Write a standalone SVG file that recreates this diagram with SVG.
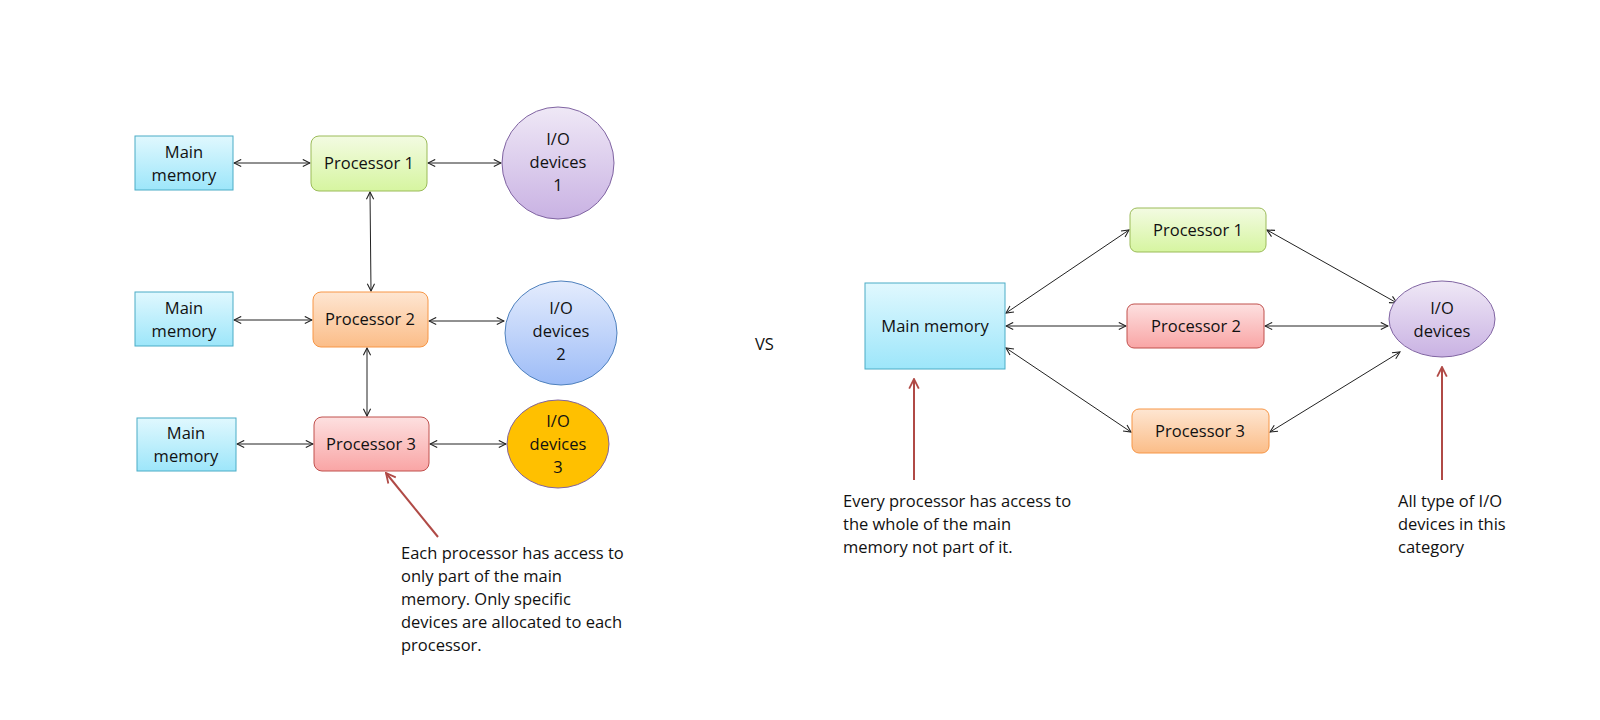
<svg xmlns="http://www.w3.org/2000/svg" width="1600" height="720" viewBox="0 0 1600 720">
<style>
text{font-family:"Open Sans","Liberation Sans",sans-serif;font-size:16.5px;fill:#111}
.c{text-anchor:middle}
.l{stroke:#222;stroke-width:1;fill:none;marker-start:url(#a);marker-end:url(#a)}
.r{stroke:#b04a46;stroke-width:2;fill:none;marker-end:url(#ra)}
</style>
<defs>
<marker id="a" viewBox="0 0 10 10" refX="9" refY="5" markerWidth="9" markerHeight="9" markerUnits="userSpaceOnUse" orient="auto-start-reverse"><path d="M1,1 L9,5 L1,9" fill="none" stroke="#222" stroke-width="1.2"/></marker>
<marker id="ra" viewBox="0 0 10 10" refX="9" refY="5" markerWidth="12" markerHeight="12" markerUnits="userSpaceOnUse" orient="auto"><path d="M1,1 L9,5 L1,9" fill="none" stroke="#b04a46" stroke-width="1.5"/></marker>
<linearGradient id="gb" x1="0" y1="0" x2="0" y2="1"><stop offset="0" stop-color="#e0f8fe"/><stop offset="1" stop-color="#9de6fa"/></linearGradient>
<linearGradient id="gg" x1="0" y1="0" x2="0" y2="1"><stop offset="0" stop-color="#f3fbe2"/><stop offset="1" stop-color="#d6f5a0"/></linearGradient>
<linearGradient id="go" x1="0" y1="0" x2="0" y2="1"><stop offset="0" stop-color="#fee6d2"/><stop offset="1" stop-color="#fbbd88"/></linearGradient>
<linearGradient id="gr" x1="0" y1="0" x2="0" y2="1"><stop offset="0" stop-color="#fde0e0"/><stop offset="1" stop-color="#f9a5a5"/></linearGradient>
<linearGradient id="gp" x1="0" y1="0" x2="0" y2="1"><stop offset="0" stop-color="#efe8f6"/><stop offset="1" stop-color="#c9b2e3"/></linearGradient>
<linearGradient id="gbl" x1="0" y1="0" x2="0" y2="1"><stop offset="0" stop-color="#e4ecfd"/><stop offset="1" stop-color="#9dbcf7"/></linearGradient>
</defs>
<rect width="1600" height="720" fill="#fff"/>
<g id="connectors">
<line class="l" x1="234" y1="163" x2="310" y2="163"/>
<line class="l" x1="428" y1="163" x2="501" y2="163"/>
<line class="l" x1="370" y1="192" x2="371" y2="291"/>
<line class="l" x1="234" y1="320" x2="312" y2="320"/>
<line class="l" x1="429" y1="321" x2="504" y2="321"/>
<line class="l" x1="367" y1="348" x2="367" y2="416"/>
<line class="l" x1="237" y1="444" x2="313" y2="444"/>
<line class="l" x1="430" y1="444" x2="506" y2="444"/>
<line class="r" x1="438" y1="537" x2="386" y2="473"/>
<line class="l" x1="1006" y1="313" x2="1129" y2="230"/>
<line class="l" x1="1006" y1="326" x2="1126" y2="326"/>
<line class="l" x1="1006" y1="348" x2="1131" y2="432"/>
<line class="l" x1="1267" y1="230" x2="1397" y2="303"/>
<line class="l" x1="1265" y1="326" x2="1388" y2="326"/>
<line class="l" x1="1270" y1="432" x2="1400" y2="352"/>
<line class="r" x1="914" y1="480" x2="914" y2="379"/>
<line class="r" x1="1442" y1="480" x2="1442" y2="367"/>
</g>
<g id="mm1"><rect x="135" y="136" width="98" height="54" fill="url(#gb)" stroke="#4bacc6"/><text class="c" x="184" y="158">Main</text><text class="c" x="184" y="181">memory</text></g>
<g id="mm2"><rect x="135" y="292" width="98" height="54" fill="url(#gb)" stroke="#4bacc6"/><text class="c" x="184" y="314">Main</text><text class="c" x="184" y="337">memory</text></g>
<g id="mm3"><rect x="137" y="418" width="99" height="53" fill="url(#gb)" stroke="#4bacc6"/><text class="c" x="186" y="439">Main</text><text class="c" x="186" y="462">memory</text></g>
<g id="p1"><rect x="311" y="136" width="116" height="55" rx="8" fill="url(#gg)" stroke="#9bbb59"/><text class="c" x="369" y="169">Processor 1</text></g>
<g id="p2"><rect x="313" y="292" width="115" height="55" rx="8" fill="url(#go)" stroke="#f79646"/><text class="c" x="370" y="325">Processor 2</text></g>
<g id="p3"><rect x="314" y="417" width="115" height="54" rx="8" fill="url(#gr)" stroke="#c0504d"/><text class="c" x="371" y="450">Processor 3</text></g>
<g id="io1"><circle cx="558" cy="163" r="56" fill="url(#gp)" stroke="#8064a2"/><text class="c" x="558" y="145">I/O</text><text class="c" x="558" y="168">devices</text><text class="c" x="558" y="191">1</text></g>
<g id="io2"><ellipse cx="561" cy="333" rx="56" ry="52" fill="url(#gbl)" stroke="#4f81bd"/><text class="c" x="561" y="314">I/O</text><text class="c" x="561" y="337">devices</text><text class="c" x="561" y="360">2</text></g>
<g id="io3"><ellipse cx="558" cy="444" rx="51" ry="44" fill="#ffc000" stroke="#8064a2"/><text class="c" x="558" y="427">I/O</text><text class="c" x="558" y="450">devices</text><text class="c" x="558" y="473">3</text></g>
<g id="note1"><text x="401" y="559">Each processor has access to</text><text x="401" y="582">only part of the main</text><text x="401" y="605">memory. Only specific</text><text x="401" y="628">devices are allocated to each</text><text x="401" y="651">processor.</text></g>
<text x="755" y="350" font-size="17">VS</text>
<g id="mm"><rect x="865" y="283" width="140" height="86" fill="url(#gb)" stroke="#4bacc6"/><text class="c" x="935" y="332">Main memory</text></g>
<g id="rp1"><rect x="1130" y="208" width="136" height="44" rx="7" fill="url(#gg)" stroke="#9bbb59"/><text class="c" x="1198" y="236">Processor 1</text></g>
<g id="rp2"><rect x="1127" y="304" width="137" height="44" rx="7" fill="url(#gr)" stroke="#c0504d"/><text class="c" x="1196" y="332">Processor 2</text></g>
<g id="rp3"><rect x="1132" y="409" width="137" height="44" rx="7" fill="url(#go)" stroke="#f79646"/><text class="c" x="1200" y="437">Processor 3</text></g>
<g id="io"><ellipse cx="1442" cy="319" rx="53" ry="38" fill="url(#gp)" stroke="#8064a2"/><text class="c" x="1442" y="314">I/O</text><text class="c" x="1442" y="337">devices</text></g>
<g id="note2"><text x="843" y="507">Every processor has access to</text><text x="843" y="530">the whole of the main</text><text x="843" y="553">memory not part of it.</text></g>
<g id="note3"><text x="1398" y="507">All type of I/O</text><text x="1398" y="530">devices in this</text><text x="1398" y="553">category</text></g>
</svg>
